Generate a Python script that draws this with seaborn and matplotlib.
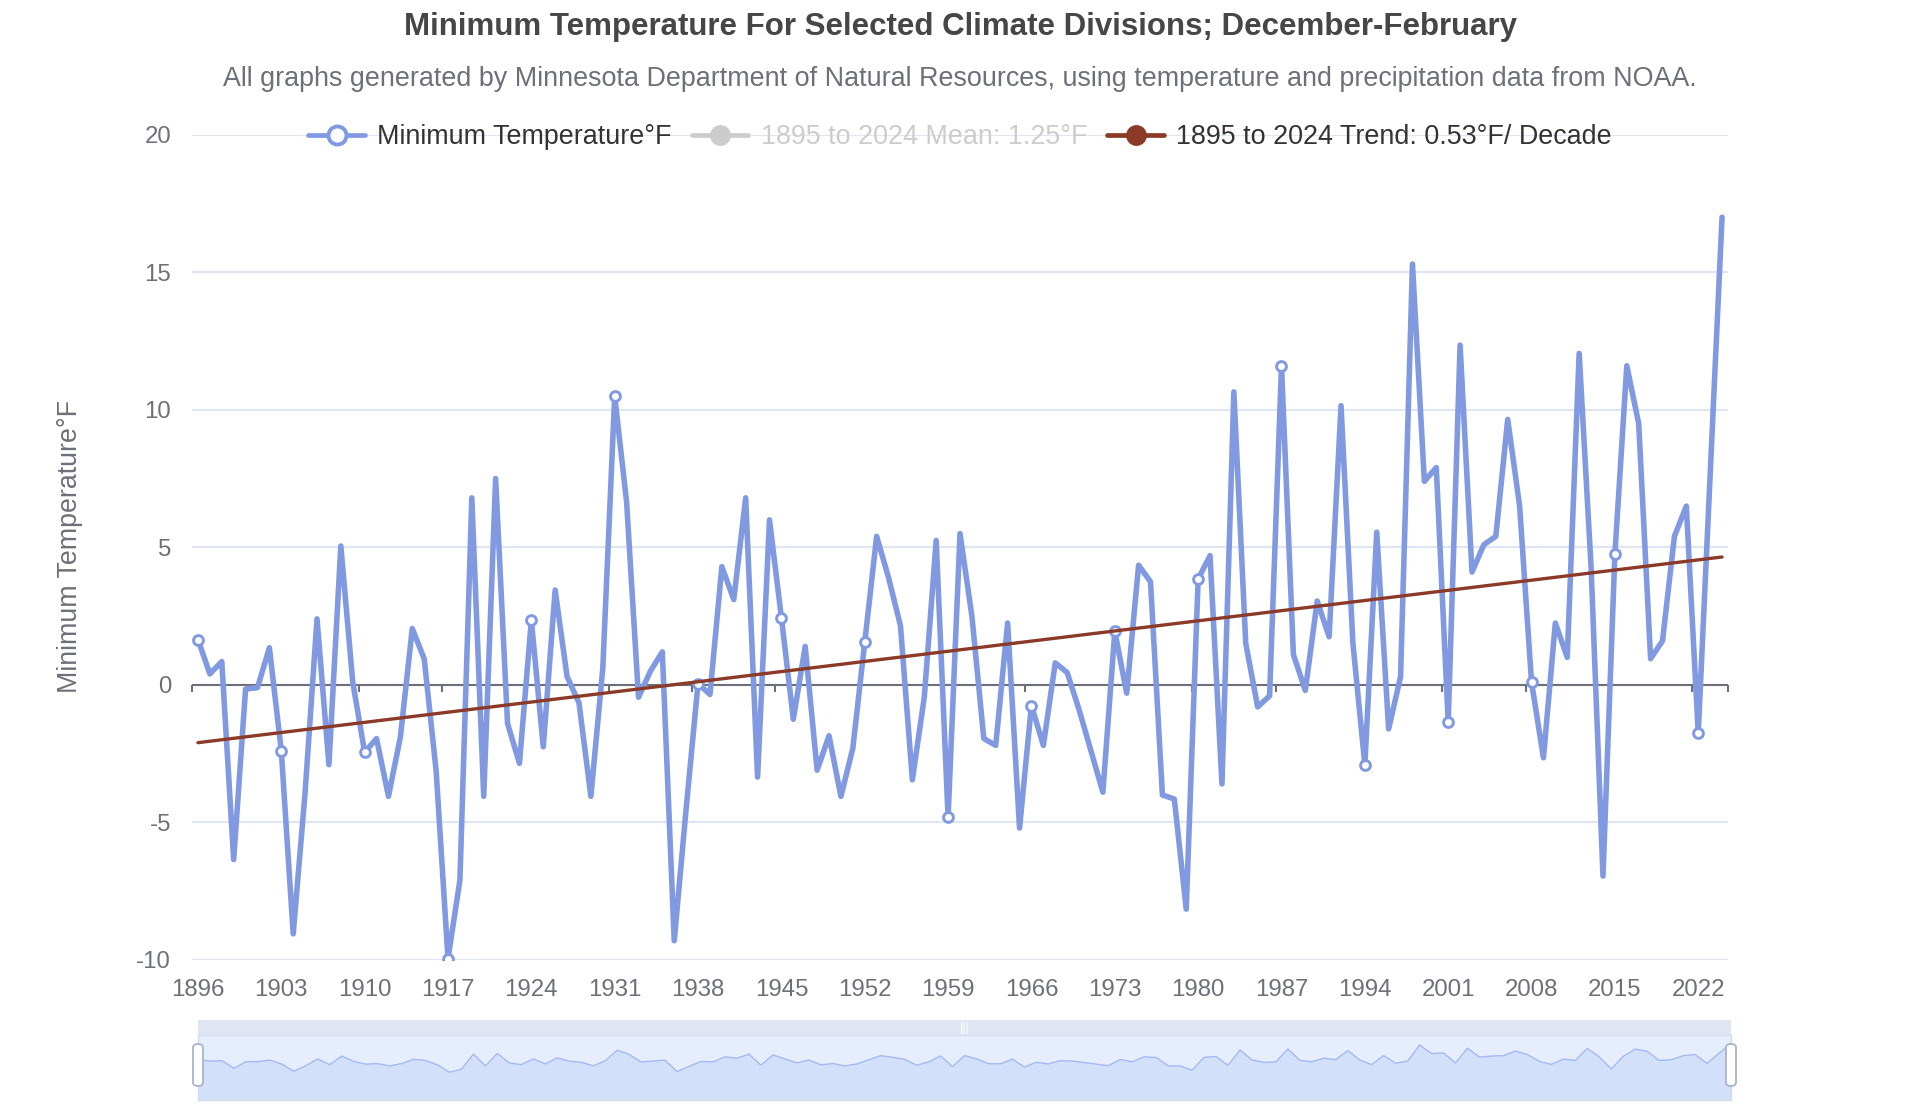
import numpy as np
import pandas as pd
import matplotlib
matplotlib.use("Agg")
import matplotlib.pyplot as plt
import seaborn as sns
from matplotlib.lines import Line2D
from matplotlib.patches import Rectangle, FancyBboxPatch

# ---------------- data ----------------
years = list(range(1896, 2025))
min_temp = [
    1.65, 0.4, 0.85, -6.35, -0.15, -0.1, 1.35, -2.4, -9.05, -3.9,      # 1896-1905
    2.4, -2.9, 5.05, 0.1, -2.45, -1.95, -4.05, -1.9, 2.05, 0.95,       # 1906-1915
    -3.1, -9.95, -7.1, 6.8, -4.05, 7.5, -1.4, -2.85, 2.35, -2.25,      # 1916-1925
    3.45, 0.3, -0.65, -4.05, 0.6, 10.5, 6.65, -0.45, 0.5, 1.2,         # 1926-1935
    -9.3, -4.5, 0.05, -0.35, 4.3, 3.1, 6.8, -3.35, 6.0, 2.45,          # 1936-1945
    -1.25, 1.4, -3.1, -1.85, -4.05, -2.3, 1.55, 5.4, 3.9, 2.15,        # 1946-1955
    -3.45, -0.45, 5.25, -4.8, 5.5, 2.5, -1.95, -2.2, 2.25, -5.2,       # 1956-1965
    -0.75, -2.2, 0.8, 0.45, -0.9, -2.4, -3.9, 1.95, -0.3, 4.35,        # 1966-1975
    3.75, -4.0, -4.15, -8.15, 3.85, 4.7, -3.6, 10.65, 1.5, -0.8,       # 1976-1985
    -0.4, 11.6, 1.1, -0.2, 3.05, 1.75, 10.15, 1.5, -2.9, 5.55,         # 1986-1995
    -1.6, 0.3, 15.3, 7.4, 7.9, -1.35, 12.35, 4.1, 5.1, 5.4,            # 1996-2005
    9.65, 6.5, 0.1, -2.65, 2.25, 1.0, 12.05, 4.3, -6.95, 4.75,         # 2006-2015
    11.6, 9.5, 0.95, 1.6, 5.4, 6.5, -1.75, 7.6, 17.0,                  # 2016-2024
]
trend_years = [1896, 2024]
trend_values = [-2.1, 4.65]
y_ticks = [-10, -5, 0, 5, 10, 15, 20]
label_step = 7

title = "Minimum Temperature For Selected Climate Divisions; December-February"
subtitle = ("All graphs generated by Minnesota Department of Natural Resources, "
            "using temperature and precipitation data from NOAA.")
legend_labels = ["Minimum Temperature°F", "1895 to 2024 Mean: 1.25°F",
                 "1895 to 2024 Trend: 0.53°F/ Decade"]
y_label = "Minimum Temperature°F"

# ---------------- style ----------------
BLUE = "#8099e1"
BROWN = "#8b3a28"
GRAY_TXT = "#6e7079"
GRID = "#e0e6f1"
DISABLED = "#cccccc"

sns.set_theme(style="white")
plt.rcParams["font.family"] = ["Liberation Sans", "DejaVu Sans"]

W, H = 1920, 1118
fig = plt.figure(figsize=(W / 100, H / 100), dpi=100)


def fx(px):
    return px / W


def fy(py):
    return 1 - py / H


ax = fig.add_axes([fx(192), fy(960), fx(1728) - fx(192), fy(134.7) - fy(960)])

df = pd.DataFrame({"year": years, "value": min_temp})
df["idx"] = np.arange(len(df))
n = len(df)

sns.lineplot(data=df, x="idx", y="value", ax=ax, color=BLUE, lw=4.0,
             zorder=3, legend=False)
mk = df[df["idx"] % label_step == 0]
sns.scatterplot(data=mk, x="idx", y="value", ax=ax, s=50, color="white",
                edgecolor=BLUE, linewidth=2.1, zorder=4, legend=False)

tdf = pd.DataFrame({"idx": [years.index(y) for y in trend_years],
                    "value": trend_values})
sns.lineplot(data=tdf, x="idx", y="value", ax=ax, color=BROWN, lw=2.4,
             zorder=5, legend=False)

# axes styling
ax.set_xlim(-0.5, n - 0.5)
ax.set_ylim(min(y_ticks), max(y_ticks))
for s in ax.spines.values():
    s.set_visible(False)
ax.set_yticks(y_ticks)
ax.set_yticklabels([str(v) for v in y_ticks])
ax.yaxis.grid(True, color=GRID, lw=1.5)
ax.set_axisbelow(True)
ax.set_xticks(mk["idx"].tolist())
ax.set_xticklabels([str(y) for y in mk["year"]])
ax.tick_params(axis="both", length=0, labelsize=17.3, labelcolor=GRAY_TXT)
ax.tick_params(axis="x", pad=14)
ax.tick_params(axis="y", pad=15)
ax.set_xlabel("")
ax.set_ylabel("")

# zero axis line with boundary tick marks
ax.axhline(0, color=GRAY_TXT, lw=1.5, zorder=2)
bounds = list(np.arange(-0.5, n - 0.5, label_step)) + [n - 0.5]
ax.plot(bounds, np.zeros(len(bounds)), linestyle="none", marker=3,
        markersize=5, markeredgewidth=1.5, color=GRAY_TXT, zorder=2,
        clip_on=False)

# titles
fig.text(0.5, fy(27), title, ha="center", va="center", fontsize=22.5,
         fontweight="bold", color="#464646")
fig.text(0.5, fy(79), subtitle, ha="center", va="center", fontsize=19.4,
         color=GRAY_TXT)
fig.text(fx(70), fy(547), y_label, rotation=90, ha="center", va="center",
         fontsize=19.3, color=GRAY_TXT)

# legend
handles = [
    Line2D([], [], color=BLUE, lw=3.4, marker="o", markersize=13,
           markerfacecolor="white", markeredgecolor=BLUE, markeredgewidth=2.8),
    Line2D([], [], color=DISABLED, lw=3.4, marker="o", markersize=14,
           markerfacecolor=DISABLED, markeredgecolor=DISABLED),
    Line2D([], [], color=BROWN, lw=3.4, marker="o", markersize=14,
           markerfacecolor=BROWN, markeredgecolor=BROWN),
]
leg = fig.legend(handles, legend_labels, loc="center",
                 bbox_to_anchor=(fx(960), fy(137)), ncol=3, frameon=False,
                 fontsize=19.4, handlelength=2.1, handletextpad=0.45,
                 columnspacing=0.75, borderaxespad=0, borderpad=0)
for t, c in zip(leg.get_texts(), ["#333333", DISABLED, "#333333"]):
    t.set_color(c)

# data-zoom slider
x0, x1 = 198, 1731
fig.add_artist(Rectangle((fx(x0), fy(1035)), fx(x1) - fx(x0), 15 / H,
                         transform=fig.transFigure, facecolor="#dfe5f3",
                         edgecolor="none", zorder=1))
fig.text(fx((x0 + x1) / 2), fy(1027.5), "|||", ha="center", va="center",
         fontsize=9, color="white", zorder=2)
ax2 = fig.add_axes([fx(x0), fy(1100), fx(x1) - fx(x0), fy(1035) - fy(1100)])
ax2.set_facecolor("#e6edfd")
ax2.fill_between(df["idx"], df["value"], -40, color="#d3e0fa", lw=0)
sns.lineplot(data=df, x="idx", y="value", ax=ax2, color="#a2b9f3", lw=1.0,
             legend=False)
ax2.set_xlim(0, n - 1)
ax2.set_ylim(-35.7, 24.6)
ax2.set_xticks([])
ax2.set_yticks([])
ax2.set_xlabel("")
ax2.set_ylabel("")
for s in ax2.spines.values():
    s.set_color("#d5dcec")
    s.set_linewidth(1)
for cx in (x0, x1):
    fig.add_artist(FancyBboxPatch((fx(cx - 5), fy(1086)), fx(10), 42 / H,
                                  boxstyle="round,pad=0,rounding_size=0.003",
                                  transform=fig.transFigure,
                                  facecolor="white", edgecolor="#a9b4cc",
                                  linewidth=1.3, zorder=5))

fig.savefig("out.png", dpi=100)
